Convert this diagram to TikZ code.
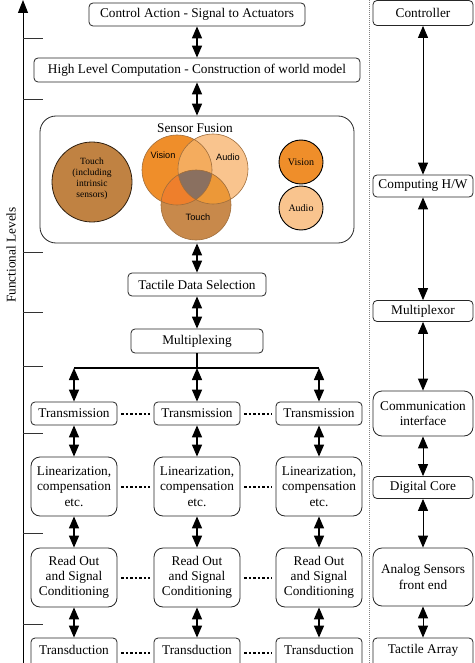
\documentclass[tikz,border=0pt]{standalone}
\usepackage{fontspec}
\setmainfont{Liberation Serif}
\newfontfamily\vennfont{Liberation Sans}
\usetikzlibrary{arrows.meta}
\definecolor{cVis}{RGB}{239,142,42}
\definecolor{cAud}{RGB}{249,196,142}
\definecolor{cTou}{RGB}{200,137,75}
\definecolor{cTbig}{RGB}{192,130,66}
\definecolor{cVA}{RGB}{244,172,94}
\definecolor{cVT}{RGB}{238,127,44}
\definecolor{cAT}{RGB}{236,152,56}
\definecolor{cCen}{RGB}{138,112,96}
\definecolor{cEdge}{RGB}{160,110,60}
\begin{document}
\begin{tikzpicture}[x=1pt,y=-1pt,
  box/.style={draw=black!85, line width=0.8pt, rounded corners=4pt, fill=white, align=center, inner sep=0pt, font=\fontsize{13.3}{15.3}\selectfont},
  tallbox/.style={box, rounded corners=9pt},
  dbl/.style={{Triangle[width=10pt,length=12pt]}-{Triangle[width=10pt,length=12pt]}, line width=1.4pt},
  rdbl/.style={{Triangle[width=10pt,length=12pt]}-{Triangle[width=10pt,length=12pt]}, line width=1pt},
  dots/.style={line width=2pt, dash pattern=on 2.5pt off 2pt, shorten <=4pt, shorten >=4pt},
  tick/.style={line width=0.8pt, draw=black!80},
  lbl/.style={font=\fontsize{13.3}{15.3}\selectfont, inner sep=0pt},
  vlbl/.style={font=\vennfont\fontsize{9.2}{11}\selectfont, inner sep=0pt},
]
\useasboundingbox (0,0) rectangle (474,663);
\fill[white] (0,0) rectangle (474,663);
\clip (0,0) rectangle (474,663);

% axis
\coordinate (axb) at (23,663);
\coordinate (axt) at (23,0);
\draw[line width=1pt, -{Triangle[width=10pt,length=13pt]}] (axb) -- (axt);
\foreach \y in {38,99,252,312,366,433,533,624} \draw[tick] (23,\y) -- (43,\y);
\node[lbl, rotate=90] (fl) at (11,255) {Functional Levels};

% separator
\draw[gray, line width=1pt, dash pattern=on 1pt off 1pt] (369,0) -- (369,663);

% left column
\node[box, minimum width=216pt, minimum height=23pt] (ctrl) at (197,14.5) {Control Action - Signal to Actuators};
\node[box, minimum width=326pt, minimum height=24pt] (high) at (197,70) {High Level Computation - Construction of world model};
\node[draw=black!85, line width=0.8pt, rounded corners=16pt, minimum width=314pt, minimum height=127pt, inner sep=0pt] (fusion) at (197,179.5) {};
\node[lbl] (sf) at (195,128) {Sensor Fusion};

% big touch circle
\draw[fill=cTbig, draw=black!75!brown, line width=0.8pt] (92,182) circle (40pt);
\node[align=center, inner sep=0pt, font=\fontsize{9.5}{11}\selectfont] (tt) at (92,179) {Touch\\(including\\intrinsic\\sensors)};

% venn
\fill[cVis] (177,170) circle (35pt);
\fill[cAud] (213,169) circle (35pt);
\fill[cTou] (196,205) circle (35pt);
\begin{scope}
\clip (177,170) circle (35pt);
\fill[cVA] (213,169) circle (35pt);
\fill[cVT] (196,205) circle (35pt);
\end{scope}
\begin{scope}
\clip (213,169) circle (35pt);
\fill[cAT] (196,205) circle (35pt);
\clip (177,170) circle (35pt);
\fill[cCen] (196,205) circle (35pt);
\end{scope}
\draw[cEdge, line width=0.6pt] (177,170) circle (35pt) (213,169) circle (35pt) (196,205) circle (35pt);
\node[vlbl] (vv) at (163,155) {Vision};
\node[vlbl] (va) at (228,157) {Audio};
\node[vlbl] (vt) at (198,217) {Touch};

% right small circles
\draw[fill=cVis, line width=0.9pt] (301,162) circle (22pt);
\draw[fill=cAud, line width=0.9pt] (301,208) circle (22pt);
\node[inner sep=0pt, font=\fontsize{10}{12}\selectfont] (sv) at (301,162) {Vision};
\node[inner sep=0pt, font=\fontsize{10}{12}\selectfont] (sa) at (301,208) {Audio};

\node[box, minimum width=138pt, minimum height=23pt] (tds) at (197,284.5) {Tactile Data Selection};
\node[box, minimum width=132pt, minimum height=24pt] (mux) at (197,341) {Multiplexing};

\foreach \i/\x in {1/74,2/197,3/319} {
  \node[box, minimum width=86pt, minimum height=23pt] (tr\i) at (\x,413.5) {Transmission};
  \node[tallbox, minimum width=86pt, minimum height=59pt] (li\i) at (\x,486.5) {Linearization,\\compensation\\etc.};
  \node[tallbox, minimum width=86pt, minimum height=59pt] (ro\i) at (\x,577.5) {Read Out\\and Signal\\Conditioning};
  \node[box, minimum width=86pt, minimum height=30pt] (td\i) at (\x,653) {};
  \node[lbl] (tdl\i) at (\x,650) {Transduction};
  \coordinate (bus\i) at (\x,368);
}

\draw[dbl] (ctrl.south) -- (high.north);
\draw[dbl] (high.south) -- (fusion.north);
\draw[dbl] (fusion.south) -- (tds.north);
\draw[dbl] (tds.south) -- (mux.north);
\draw[line width=1.2pt] (mux.south) -- (bus2);
\draw[line width=1.2pt] (bus1) -- (bus3);
\foreach \i in {1,2,3} {
  \draw[dbl] (bus\i) -- (tr\i.north);
  \draw[dbl] (tr\i.south) -- (li\i.north);
  \draw[dbl] (li\i.south) -- (ro\i.north);
  \draw[dbl] (ro\i.south) -- (td\i.north);
}
\foreach \r in {tr,li,ro,td} {
  \draw[dots] (\r1.east) -- (\r2.west);
  \draw[dots] (\r2.east) -- (\r3.west);
}

% right column
\node[box, minimum width=100pt, minimum height=25pt] (rc1) at (423,13) {Controller};
\node[box, minimum width=100pt, minimum height=22pt] (rc2) at (423,186) {Computing H/W};
\node[box, minimum width=100pt, minimum height=21pt] (rc3) at (423,311) {Multiplexor};
\node[tallbox, minimum width=100pt, minimum height=45pt] (rc4) at (423,413.5) {Communication\\interface};
\node[box, minimum width=100pt, minimum height=22pt] (rc5) at (423,487.5) {Digital Core};
\node[tallbox, minimum width=100pt, minimum height=58pt] (rc6) at (423,577) {Analog Sensors\\front end};
\node[box, minimum width=100pt, minimum height=30pt] (rc7) at (423,653) {};
\node[lbl] (rc7l) at (423,650) {Tactile Array};
\draw[rdbl] (rc1.south) -- (rc2.north);
\draw[rdbl] (rc2.south) -- (rc3.north);
\draw[rdbl] (rc3.south) -- (rc4.north);
\draw[rdbl] (rc4.south) -- (rc5.north);
\draw[rdbl] (rc5.south) -- (rc6.north);
\draw[rdbl] (rc6.south) -- (rc7.north);
\end{tikzpicture}
\end{document}
